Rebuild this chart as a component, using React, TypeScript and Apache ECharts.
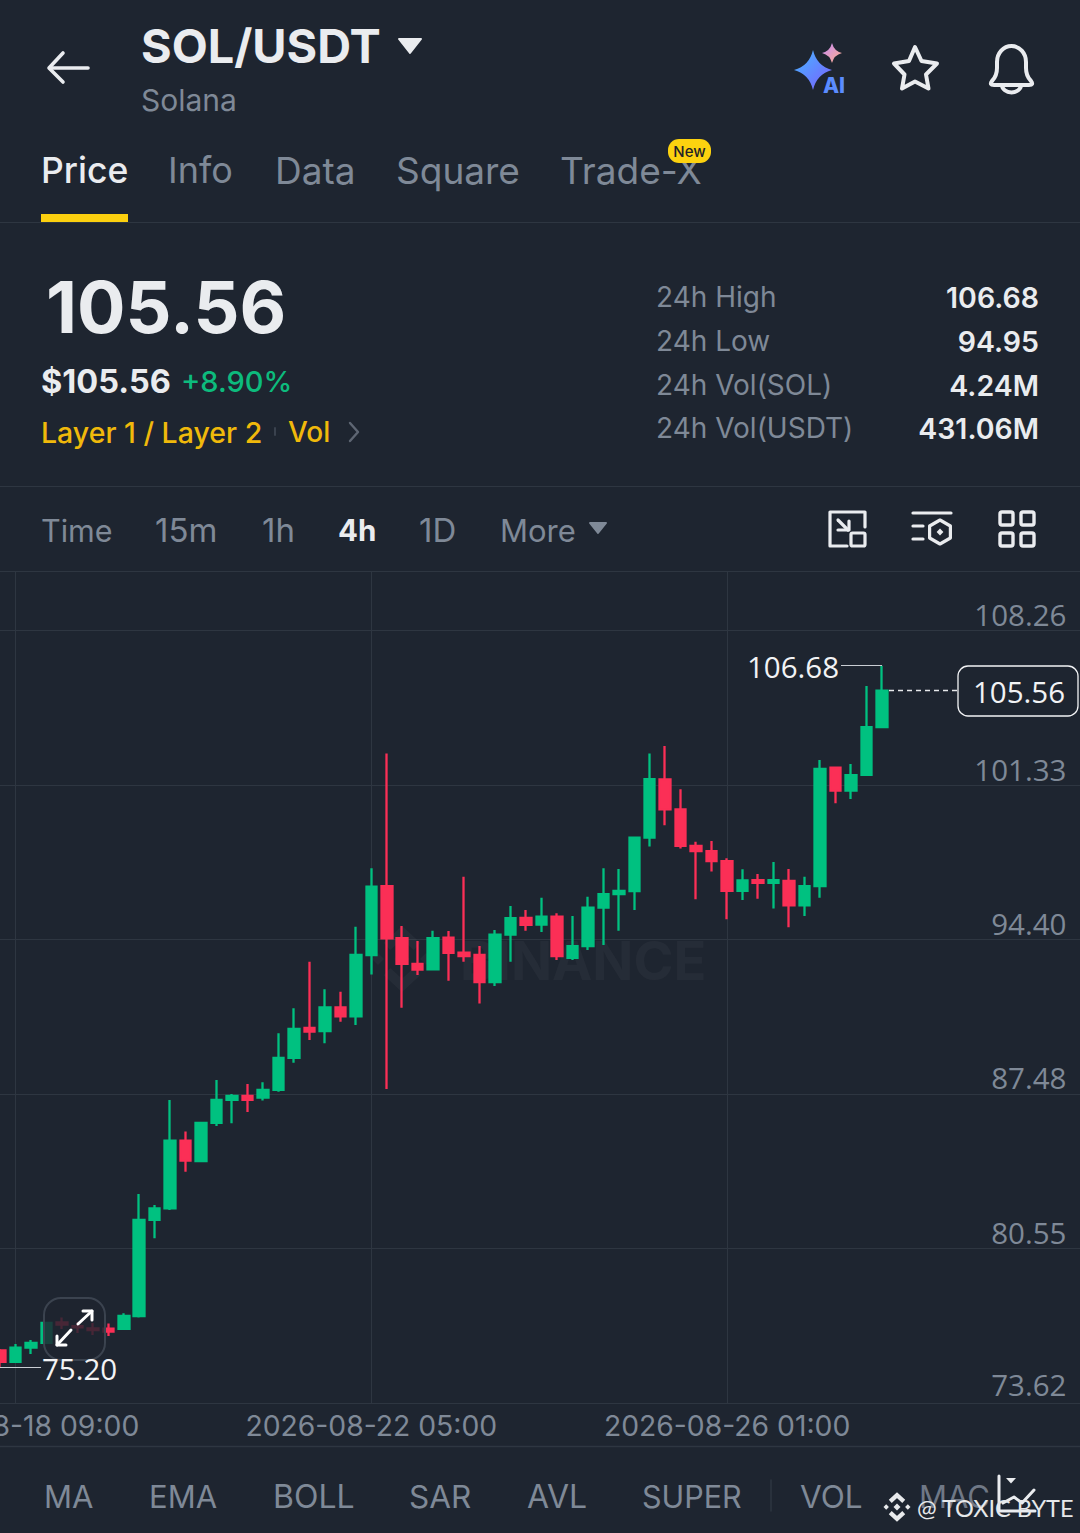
import React, { useEffect, useRef } from "react";
import * as echarts from "echarts";

const categories = [
  "2026-08-18 05:00","2026-08-18 09:00","2026-08-18 13:00","2026-08-18 17:00","2026-08-18 21:00",
  "2026-08-19 01:00","2026-08-19 05:00","2026-08-19 09:00","2026-08-19 13:00","2026-08-19 17:00","2026-08-19 21:00",
  "2026-08-20 01:00","2026-08-20 05:00","2026-08-20 09:00","2026-08-20 13:00","2026-08-20 17:00","2026-08-20 21:00",
  "2026-08-21 01:00","2026-08-21 05:00","2026-08-21 09:00","2026-08-21 13:00","2026-08-21 17:00","2026-08-21 21:00",
  "2026-08-22 01:00","2026-08-22 05:00","2026-08-22 09:00","2026-08-22 13:00","2026-08-22 17:00","2026-08-22 21:00",
  "2026-08-23 01:00","2026-08-23 05:00","2026-08-23 09:00","2026-08-23 13:00","2026-08-23 17:00","2026-08-23 21:00",
  "2026-08-24 01:00","2026-08-24 05:00","2026-08-24 09:00","2026-08-24 13:00","2026-08-24 17:00","2026-08-24 21:00",
  "2026-08-25 01:00","2026-08-25 05:00","2026-08-25 09:00","2026-08-25 13:00","2026-08-25 17:00","2026-08-25 21:00",
  "2026-08-26 01:00","2026-08-26 05:00","2026-08-26 09:00","2026-08-26 13:00","2026-08-26 17:00","2026-08-26 21:00",
  "2026-08-27 01:00","2026-08-27 05:00","2026-08-27 09:00","2026-08-27 13:00","2026-08-27 17:00","2026-08-27 21:00",
  "2026-08-28 01:00","2026-08-28 05:00","2026-08-28 09:00","2026-08-28 13:00","2026-08-28 17:00","2026-08-28 21:00",
  "2026-08-29 01:00","2026-08-29 05:00","2026-08-29 09:00","2026-08-29 13:00","2026-08-29 17:00","2026-08-29 21:00",
];

const opens = [
  75.98,75.47,76.10,76.32,77.23,77.07,76.96,76.95,76.95,77.52,
  81.83,82.35,85.38,84.47,86.18,87.21,87.39,87.31,87.66,89.10,
  90.44,90.30,91.36,90.96,93.71,96.80,94.46,93.31,93.07,94.49,
  93.81,93.71,92.49,94.62,95.37,95.07,95.43,93.58,94.11,95.83,
  96.44,96.58,98.97,101.59,100.24,98.60,98.37,97.92,96.59,97.07,
  96.95,97.03,95.94,96.80,102.11,101.08,101.79,103.93,
];
const closes = [
  75.46,76.10,76.32,77.21,77.14,77.01,76.89,76.82,77.53,81.83,
  82.35,85.38,84.49,86.18,87.21,87.39,87.21,87.66,89.10,90.40,
  90.27,91.36,90.96,93.71,96.77,94.46,93.31,93.05,94.47,93.81,
  93.66,92.49,94.62,95.36,95.06,95.43,93.66,94.11,95.83,96.44,
  96.58,98.97,101.60,100.24,98.60,98.37,97.92,96.59,97.06,96.95,
  97.07,95.94,96.80,102.05,101.08,101.78,103.93,105.56,
];
const lows = [
  75.20,75.41,75.82,76.31,76.94,76.76,76.67,76.62,76.92,77.45,
  81.01,82.27,83.99,84.43,86.04,86.16,86.67,87.18,87.58,88.88,
  89.90,89.75,90.72,90.57,92.84,87.70,91.35,92.81,93.07,92.56,
  93.41,91.54,92.32,93.41,94.80,94.74,93.49,93.49,93.93,94.16,
  94.80,95.73,98.57,99.53,98.49,96.21,97.45,95.31,96.18,96.23,
  95.79,94.95,95.46,96.28,100.51,100.70,101.75,103.93,
];
const highs = [
  76.04,76.27,76.45,77.22,77.45,77.25,77.21,77.19,77.64,82.99,
  82.50,87.21,85.79,86.18,88.10,87.48,87.92,88.00,90.20,91.32,
  93.41,92.17,92.06,94.98,97.60,102.75,95.01,94.34,94.80,94.79,
  97.22,94.11,94.83,95.91,95.73,96.28,95.58,95.46,96.32,97.60,
  97.57,98.97,102.75,103.08,101.14,98.79,98.82,98.05,97.55,97.34,
  97.88,97.57,97.22,102.45,102.15,102.27,105.77,106.68,
];
const priceTicks = [73.62, 80.55, 87.48, 94.40, 101.33, 108.26];
const dateTickIndexes = [1, 24, 47];

const BG = "#1E2530";
const WHITE = "#EAECEF";
const GREY = "#7F8997";
const LINE = "#2E3641";
const UP = "#00C180";
const DOWN = "#FB2F56";
const FONT = "Inter";
const NUM_FONT = "Open Sans";

const txt = (text: string, x: number, y: number, size: number, fill: string, weight = 400, align = "left", extra: any = {}) => ({
  type: "text", x, y, z: 20, silent: true,
  style: { text, fill, fontFamily: FONT, fontSize: size, fontWeight: weight, textAlign: align, textVerticalAlign: "middle", ...extra },
});
const seg = (x1: number, y1: number, x2: number, y2: number, stroke: string, lineWidth = 1, extra: any = {}) => ({
  type: "line", z: 20, silent: true, shape: { x1, y1, x2, y2 }, style: { stroke, lineWidth, lineCap: "round", ...extra },
});
const poly = (pts: number[][], stroke: string, lineWidth = 3.4) => ({
  type: "polyline", z: 20, silent: true, shape: { points: pts }, style: { stroke, lineWidth, fill: "none", lineCap: "round", lineJoin: "round" },
});
const fillPoly = (pts: number[][], fill: string, extra: any = {}) => ({
  type: "polygon", z: 20, silent: true, shape: { points: pts }, style: { fill, ...extra },
});
const box = (x: number, y: number, w: number, h: number, r: number, style: any) => ({
  type: "rect", z: 20, silent: true, shape: { x, y, width: w, height: h, r }, style,
});
const diamond = (cx: number, cy: number, s: number) => [[cx, cy - s], [cx + s, cy], [cx, cy + s], [cx - s, cy]];
const logo = (cx: number, cy: number, s: number, color: string, z: number, opacity = 1) => {
  const st = { fill: color, opacity };
  const chev = (dir: number) => ({
    type: "polyline", z, silent: true,
    shape: { points: [[cx - 0.5 * s, cy + dir * 0.42 * s], [cx, cy + dir * 0.88 * s], [cx + 0.5 * s, cy + dir * 0.42 * s]] },
    style: { stroke: color, lineWidth: 0.32 * s, fill: "none", opacity },
  });
  return [
    { ...fillPoly(diamond(cx, cy, 0.26 * s), color, st), z },
    { ...fillPoly(diamond(cx - 0.8 * s, cy, 0.2 * s), color, st), z },
    { ...fillPoly(diamond(cx + 0.8 * s, cy, 0.2 * s), color, st), z },
    chev(-1), chev(1),
  ];
};

const buildGraphics = () => {
  const grad = (a: string, b: string) => new echarts.graphic.LinearGradient(0, 0, 1, 1, [{ offset: 0, color: a }, { offset: 1, color: b }]);
  const hex = (cx: number, cy: number, r: number) => [0, 1, 2, 3, 4, 5].map((k) => {
    const a = (Math.PI / 3) * k - Math.PI / 2;
    return [cx + r * Math.cos(a), cy + r * Math.sin(a)];
  });
  const num = { fontFamily: NUM_FONT };
  return [
    // header
    poly([[88, 68], [50, 68]], WHITE, 3.6),
    poly([[63, 53], [49, 68], [63, 82]], WHITE, 3.6),
    txt("SOL/USDT", 141, 46, 46.8, WHITE, 700),
    { ...fillPoly([[399, 39], [421, 39], [410, 53]], WHITE, { stroke: WHITE, lineWidth: 2, lineJoin: "round" }) },
    txt("Solana", 141, 100, 30, GREY),
    { type: "star4", z: 20, silent: true, x: 813, y: 70, scaleX: 19, scaleY: 20, style: { fill: grad("#45B8FF", "#7C5CFF") } },
    { type: "star4", z: 20, silent: true, x: 832, y: 53, scaleX: 10, scaleY: 10, style: { fill: grad("#C58BFF", "#FFAE84") } },
    txt("AI", 834, 85, 21, "#5B8CFF", 800, "center"),
    { ...fillPoly([[915, 47], [921.5, 61], [937, 63.5], [926, 74.5], [928.5, 88.5], [915, 81.5], [902, 88.5], [904.5, 74.5], [894, 63.5], [909, 61]], "none", { stroke: WHITE, lineWidth: 4, lineJoin: "round" }) },
    { type: "bell", z: 20, silent: true, style: { fill: "none", stroke: WHITE, lineWidth: 4, lineJoin: "round" } },
    // tabs
    txt("Price", 41, 170, 35.5, WHITE, 500),
    txt("Info", 168, 170, 36, GREY),
    txt("Data", 275, 170, 37, GREY),
    txt("Square", 396, 170, 37, GREY),
    txt("Trade-X", 560, 170, 37, GREY),
    box(668, 139, 43, 24, 11, { fill: "#FCD20F" }),
    txt("New", 689.5, 151.5, 15, "#1E2329", 500, "center"),
    box(41, 214, 87, 8, 0, { fill: "#FCD00F" }),
    seg(0, 222.5, 1080, 222.5, LINE, 1, { lineCap: "butt" }),
    // price block
    txt("105.56", 46, 306, 72, WHITE, 700),
    txt("$105.56", 41, 381, 32.5, WHITE, 700),
    txt("+8.90%", 181, 381, 29, "#0DBB7D", 500),
    txt("Layer 1 / Layer 2", 41, 432, 28.5, "#F0B90B", 500),
    seg(275, 428, 275, 435, "#3A424E", 2),
    txt("Vol", 288, 432, 28, "#F0B90B", 500),
    poly([[350, 423], [358, 432], [350, 441]], "#5E6673", 2.4),
    txt("24h High", 656, 297, 28, GREY),
    txt("24h Low", 656, 341, 28, GREY),
    txt("24h Vol(SOL)", 656, 385, 28, GREY),
    txt("24h Vol(USDT)", 656, 428, 28, GREY),
    txt("106.68", 1039, 297, 28.5, WHITE, 600, "right"),
    txt("94.95", 1039, 341, 28.5, WHITE, 600, "right"),
    txt("4.24M", 1039, 385, 28.5, WHITE, 600, "right"),
    txt("431.06M", 1039, 428, 28.5, WHITE, 600, "right"),
    seg(0, 486.5, 1080, 486.5, LINE, 1, { lineCap: "butt" }),
    // timeframes
    txt("Time", 41, 530, 30.5, GREY),
    txt("15m", 155, 530, 33, GREY),
    txt("1h", 262, 530, 33, GREY),
    txt("4h", 338, 530, 29.5, WHITE, 700),
    txt("1D", 419, 530, 33, GREY),
    txt("More", 500, 530, 31, GREY),
    { ...fillPoly([[590, 523], [606, 523], [598, 533]], GREY, { stroke: GREY, lineWidth: 2, lineJoin: "round" }) },
    poly([[865, 527], [865, 512], [830, 512], [830, 546], [847, 546]], WHITE, 3.2),
    box(851, 533, 14, 13, 1.5, { fill: "none", stroke: WHITE, lineWidth: 3.2 }),
    poly([[838, 520], [848, 530]], WHITE, 3.2),
    poly([[849, 521], [849, 530], [838, 530]], WHITE, 3.2),
    seg(913, 513, 951, 513, WHITE, 3.2),
    seg(913, 526, 923, 526, WHITE, 3.2),
    seg(913, 539, 923, 539, WHITE, 3.2),
    { ...fillPoly(hex(940, 532, 12), "none", { stroke: WHITE, lineWidth: 3.2, lineJoin: "round" }) },
    fillPoly(diamond(940, 532, 3.4), WHITE),
    box(1000, 512, 13, 13, 2, { fill: "none", stroke: WHITE, lineWidth: 3.4 }),
    box(1021, 512, 13, 13, 2, { fill: "none", stroke: WHITE, lineWidth: 3.4 }),
    box(1000, 533, 13, 13, 2, { fill: "none", stroke: WHITE, lineWidth: 3.4 }),
    box(1021, 533, 13, 13, 2, { fill: "none", stroke: WHITE, lineWidth: 3.4 }),
    seg(0, 571.5, 1080, 571.5, LINE, 1, { lineCap: "butt" }),
    // chart watermark
    ...logo(402, 959, 30, "#FFFFFF", 1, 0.035),
    { ...txt("BINANCE", 460, 960, 54, "#FFFFFF", 700, "left", { opacity: 0.035 }), z: 1 },
    // high / low / last labels
    txt("106.68", 747, 666, 29.5, "#F2F3F5", 400, "left", num),
    seg(841, 665.5, 882, 665.5, "#C9CDD3", 1, { lineCap: "butt" }),
    seg(889, 690.5, 958, 690.5, "#E6E8EA", 1.4, { lineDash: [5, 4], lineCap: "butt" }),
    box(958, 666, 120, 50, 10, { fill: BG, stroke: "#F2F3F5", lineWidth: 1.3 }),
    txt("105.56", 1019, 691, 29.5, "#F2F3F5", 400, "center", num),
    seg(0, 1367.5, 41, 1367.5, "#C9CDD3", 1, { lineCap: "butt" }),
    box(44, 1298, 61, 62, 17, { fill: "rgba(30,37,48,0.82)", stroke: "#3B434F", lineWidth: 2 }),
    { ...txt("75.20", 42, 1368, 29.5, "#F2F3F5", 400, "left", num), z: 21 },
    poly([[78, 1324], [92, 1311]], "#FFFFFF", 3),
    poly([[83, 1311], [92, 1311], [92, 1320]], "#FFFFFF", 3),
    poly([[71, 1330], [57, 1345]], "#FFFFFF", 3),
    poly([[57, 1336], [57, 1345], [66, 1345]], "#FFFFFF", 3),
    // bottom bar
    seg(0, 1446.5, 1080, 1446.5, LINE, 1.4, { lineCap: "butt" }),
    txt("MA", 44, 1496, 31, GREY),
    txt("EMA", 149, 1496, 31, GREY),
    txt("BOLL", 273, 1496, 32, GREY),
    txt("SAR", 409, 1496, 31.5, GREY),
    txt("AVL", 527, 1496, 32, GREY),
    txt("SUPER", 642, 1496, 30.5, GREY),
    seg(771, 1480, 771, 1511, LINE, 1.5),
    txt("VOL", 800, 1496, 31.5, GREY),
    txt("MAC", 919, 1496, 31, "#6F7886"),
    poly([[999, 1476], [999, 1511], [1035, 1511]], WHITE, 3),
    poly([[1003, 1503], [1014, 1497], [1022, 1503], [1034, 1490]], WHITE, 3),
    fillPoly([[1006, 1478], [1016, 1478], [1011, 1483.5]], WHITE),
    ...logo(897, 1507, 13.5, "#E8EAEC", 21),
    { ...txt("@ TOXIC BYTE", 917, 1508, 23.5, "#E6E8EA", 400, "left", { fontFamily: "Lato" }), z: 21 },
  ];
};

export default function App() {
  const ref = useRef<HTMLDivElement>(null);
  useEffect(() => {
    if (!ref.current) return;
    echarts.graphic.registerShape("star4", echarts.graphic.extendPath("M0 -1Q0.2 -0.2 1 0Q0.2 0.2 0 1Q-0.2 0.2 -1 0Q-0.2 -0.2 0 -1Z", {}));
    echarts.graphic.registerShape("bell", echarts.graphic.extendPath("M992 81Q997 76 997 68L997 62A14.5 16 0 0 1 1026 62L1026 68Q1026 76 1031 81Q1034 85 1029 85L994 85Q989 85 992 81ZM1002 85A9 7 0 0 0 1021 85", {}));
    const chart = echarts.init(ref.current, undefined, { renderer: "svg" });
    const isDateTick = (i: number) => dateTickIndexes.includes(i);
    const tickRich = { color: GREY, fontFamily: NUM_FONT, fontSize: 29.5 };
    chart.setOption({
      animation: false,
      backgroundColor: BG,
      grid: { left: 0, top: 572, height: 831, width: 1082.9, containLabel: false, outerBoundsMode: "none" },
      xAxis: {
        type: "category",
        data: categories,
        boundaryGap: false,
        axisLine: { show: false },
        axisTick: { show: false },
        axisLabel: { interval: (i: number) => isDateTick(i), color: GREY, fontFamily: FONT, fontSize: 28.3, margin: 9 },
        splitLine: { show: true, interval: (i: number) => isDateTick(i), lineStyle: { color: LINE, width: 1 } },
      },
      yAxis: {
        type: "value",
        position: "right",
        min: 73.62,
        max: 110.885,
        scale: true,
        axisLine: { show: false },
        axisTick: { show: false, customValues: priceTicks },
        axisLabel: {
          inside: true, margin: 16.5, customValues: priceTicks, color: GREY, fontFamily: NUM_FONT, fontSize: 29.5,
          verticalAlign: "bottom", align: "right", showMinLabel: true, showMaxLabel: true,
          formatter: (v: number) => (v === priceTicks[0] ? `{low|${v.toFixed(2)}}` : `{std|${v.toFixed(2)}}`),
          rich: {
            std: { ...tickRich, padding: [0, 0, 1, 0] },
            low: { ...tickRich, padding: [0, 0, 4, 0] },
          },
        },
        splitLine: { show: true, customValues: priceTicks, showMinLine: true, lineStyle: { color: LINE, width: 1 } },
      },
      graphic: { elements: buildGraphics() },
      series: [
        {
          type: "candlestick",
          barWidth: 11,
          data: opens.map((o, i) => [o, closes[i], lows[i], highs[i]]),
          itemStyle: { color: UP, color0: DOWN, borderColor: UP, borderColor0: DOWN, borderWidth: 2.3 },
          emphasis: { disabled: true },
        },
      ],
    });
    return () => chart.dispose();
  }, []);
  return <div ref={ref} style={{ position: "absolute", left: 0, top: 0, width: 1080, height: 1533 }} />;
}
